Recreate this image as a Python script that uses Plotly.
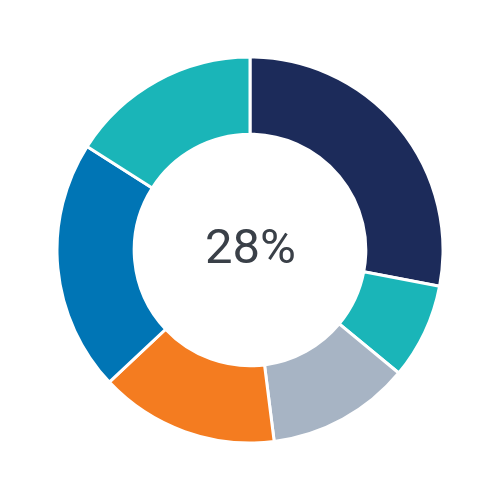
import plotly.graph_objects as go

# share of each segment, clockwise from 12 o'clock
labels = ['Segment A', 'Segment B', 'Segment C', 'Segment D', 'Segment E', 'Segment F']
values = [28, 8, 12, 15, 21, 16]
colors = ['#1c2b5a', '#1ab5b8', '#a7b4c4', '#f47c20', '#0075b5', '#1ab5b8']
center_label = '28%'

fig = go.Figure(data=[
    go.Pie(
        labels=labels,
        values=values,
        hole=0.6,
        sort=False,
        direction='clockwise',
        rotation=0,
        textinfo='none',
        hoverinfo='label+percent',
        marker=dict(colors=colors, line=dict(color='white', width=3)),
    )
])

# page body adds ~8px offset, so shift the plot area up/left
fig.update_layout(
    width=500,
    height=500,
    showlegend=False,
    margin=dict(l=49, r=65, t=49, b=65),
    paper_bgcolor='white',
    plot_bgcolor='white',
    annotations=[dict(
        text=center_label,
        x=0.5, y=0.5, xref='paper', yref='paper',
        yshift=4,
        showarrow=False,
        font=dict(family='Roboto, Arial, sans-serif', size=49, color='#3a4048'),
    )],
)

fig.write_html("out.html")
